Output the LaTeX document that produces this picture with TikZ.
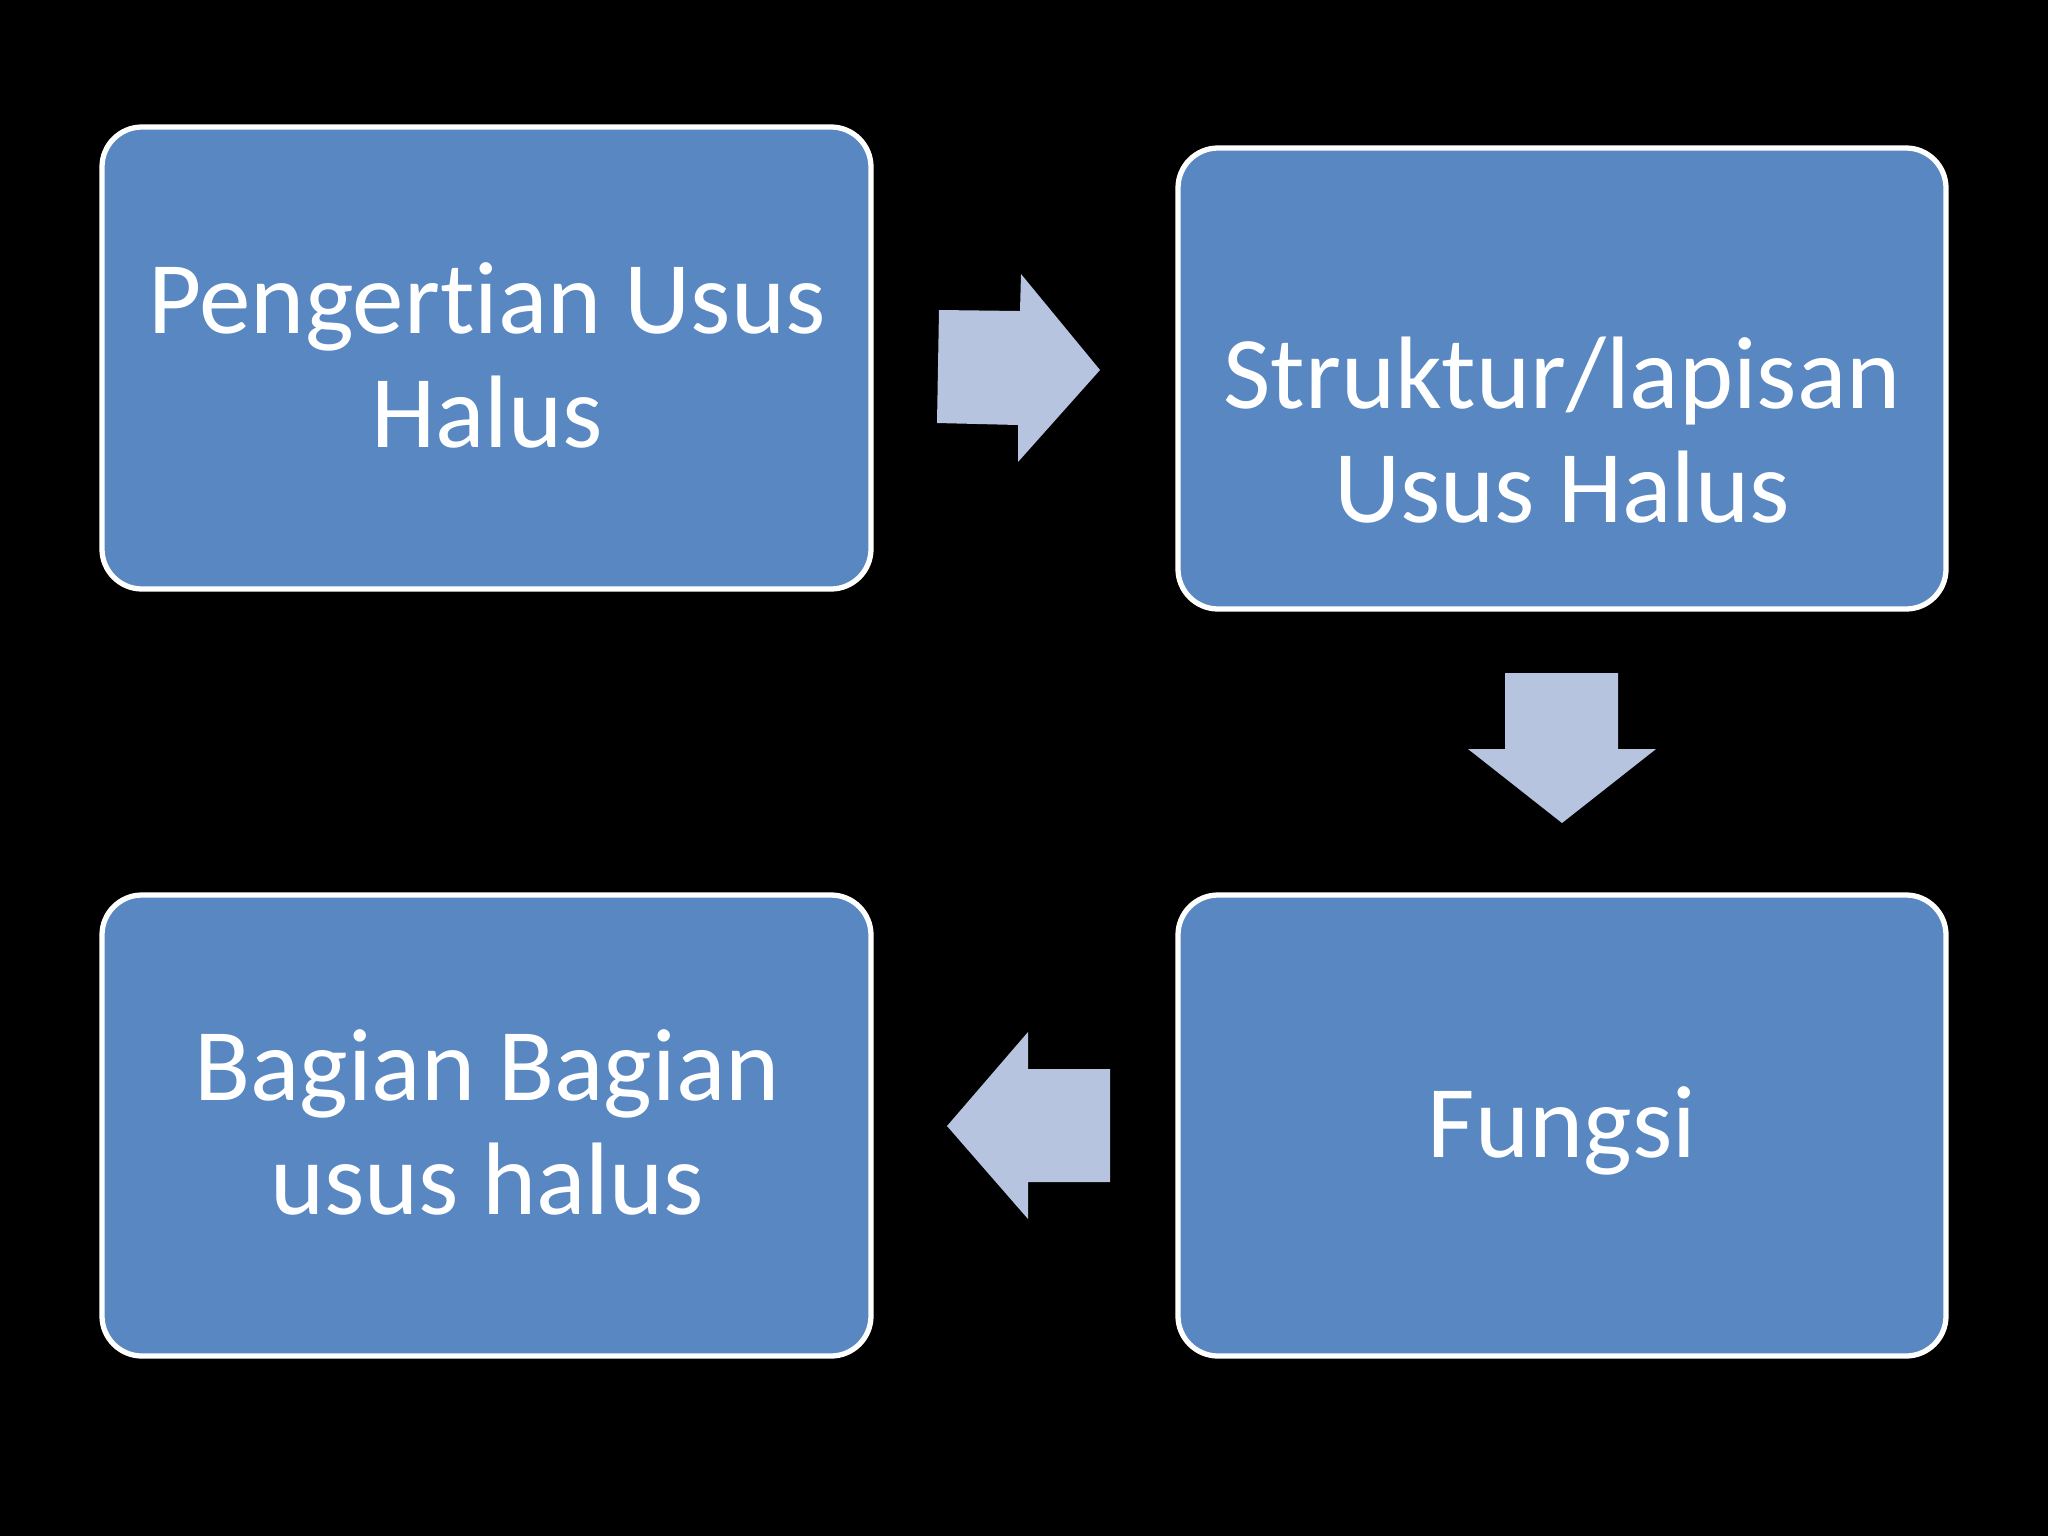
\documentclass[tikz,border=0pt]{standalone}
\usepackage{fontspec}
\setmainfont{Carlito}[Ligatures={NoCommon}]
\definecolor{boxblue}{HTML}{5887C1}
\definecolor{arrowblue}{HTML}{B7C4DF}
\begin{document}
\begin{tikzpicture}[x=0.01cm,y=-0.01cm,
  stepbox/.style={draw=white,line width=1.5pt,fill=boxblue,rounded corners=0.4cm},
  boxtext/.style={text=white,align=center,inner sep=0pt,font=\fontsize{29.3}{32.4}\selectfont},
  blockarrow/.style={fill=arrowblue,draw=none}]
\fill[black] (0,0) rectangle (2048,1536);
\useasboundingbox (0,0) rectangle (2048,1536);
% boxes
\draw[stepbox] (102,127) rectangle (871,589);
\draw[stepbox] (1178,148) rectangle (1946,609);
\draw[stepbox] (1178,895) rectangle (1946,1356);
\draw[stepbox] (102,895) rectangle (871,1356);
\node[boxtext] (t1) at (487,355) {Pengertian Usus\\Halus};
\node[boxtext] (t2) at (1562,430) {Struktur/lapisan\\Usus Halus};
\node[boxtext] (t3) at (1562,1131) {Fungsi};
\node[boxtext] (t4) at (487,1122) {Bagian Bagian\\usus halus};
% block arrows
\fill[blockarrow] (939,310) -- (1020,311) -- (1021,274) -- (1100,370) -- (1018,462) -- (1018,425) -- (937,423) -- cycle;
\fill[blockarrow] (1505,673) -- (1618,673) -- (1618,749) -- (1656,749) -- (1562,823) -- (1468,749) -- (1505,749) -- cycle;
\fill[blockarrow] (1110,1069) -- (1110,1182) -- (1028,1182) -- (1028,1219) -- (947,1126) -- (1028,1032) -- (1028,1069) -- cycle;
\end{tikzpicture}
\end{document}
